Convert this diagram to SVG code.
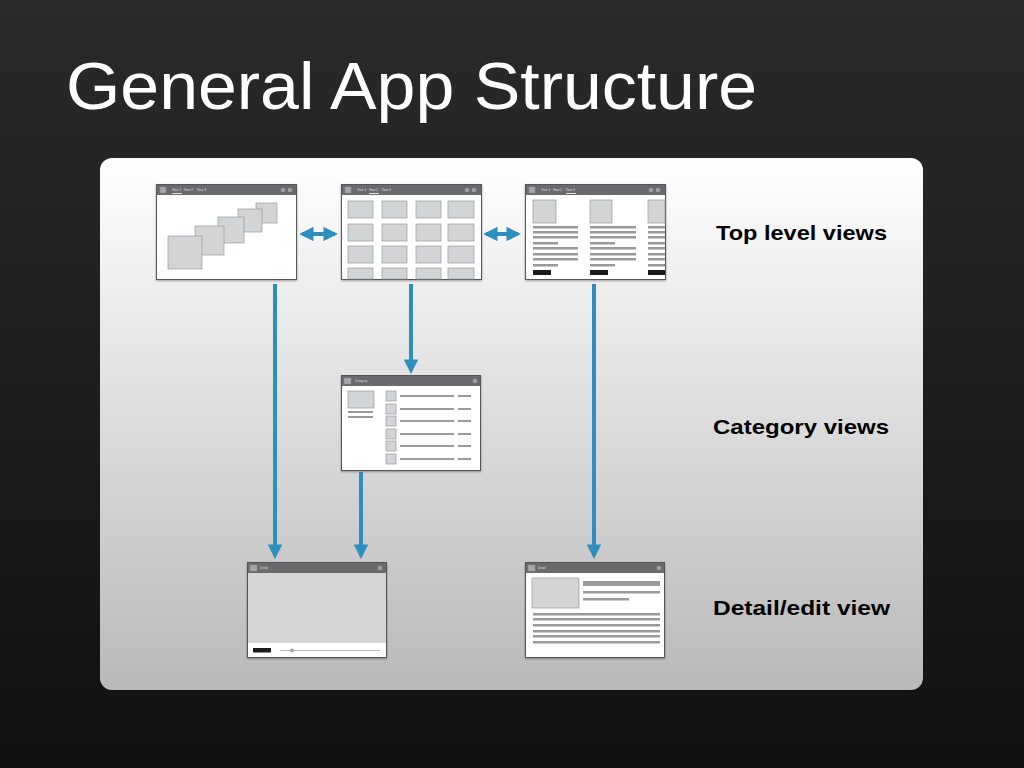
<svg xmlns="http://www.w3.org/2000/svg" width="1024" height="768" viewBox="0 0 1024 768">
<defs>
<linearGradient id="bg" x1="0" y1="0" x2="0" y2="1"><stop offset="0" stop-color="#2a2a2a"/><stop offset="1" stop-color="#111"/></linearGradient>
<linearGradient id="panel" x1="0" y1="0" x2="0" y2="1"><stop offset="0" stop-color="#ffffff"/><stop offset="1" stop-color="#b9b9b9"/></linearGradient>
<marker id="ah" viewBox="0 0 10 10" refX="8" refY="5" markerWidth="3.6" markerHeight="3.6" orient="auto-start-reverse"><path d="M0,0 L10,5 L0,10 z" fill="#2e8ec0"/></marker>
<filter id="sh" x="-5%" y="-5%" width="110%" height="115%"><feDropShadow dx="0" dy="1" stdDeviation="1" flood-opacity="0.35"/></filter>
</defs>
<style>
.win{fill:#fff;stroke:#555;stroke-width:1}
.bar{fill:#6b6b6d}
.ic{fill:#a8a8aa;stroke:#8a8a8a;stroke-width:0.5}
.dot{fill:#a0a0a2}
.box{fill:#d3d4d5;stroke:#999;stroke-width:0.7}
.ln{fill:#9a9a9a}
.blk{fill:#1e1e1e}
.tt{font-family:"Liberation Sans",Arial,sans-serif;font-size:3px;fill:#ddd}
.lab{font-family:"Liberation Sans",Arial,sans-serif;font-size:21px;font-weight:bold;fill:#000}
.con{stroke:#2e8ec0;stroke-width:4;fill:none;marker-end:url(#ah)}
.con2{stroke:#2e8ec0;stroke-width:4;fill:none;marker-end:url(#ah);marker-start:url(#ah)}
</style>
<rect width="1024" height="768" fill="url(#bg)"/>
<text x="66" y="109" font-family="'Liberation Sans',Arial,sans-serif" font-size="66" fill="#fff" textLength="691" lengthAdjust="spacingAndGlyphs">General App Structure</text>
<rect x="100" y="158" width="823" height="532" rx="12" fill="url(#panel)"/>

<g id="w1" filter="url(#sh)">
<rect class="win" x="156.5" y="184.5" width="140" height="95"/>
<rect class="bar" x="157" y="185" width="139" height="10"/>
<rect class="ic" x="160" y="187" width="6" height="6"/>
<text class="tt" x="172" y="191">View 1</text><text class="tt" x="184" y="191">View 2</text><text class="tt" x="197" y="191">View 3</text>
<rect x="172" y="193" width="10" height="0.8" fill="#fff"/>
<circle class="dot" cx="283" cy="190" r="2.3"/><circle class="dot" cx="290" cy="190" r="2.3"/>
<rect class="box" x="256" y="203" width="21" height="20"/>
<rect class="box" x="238" y="209" width="24" height="23"/>
<rect class="box" x="218" y="217" width="26" height="26"/>
<rect class="box" x="195" y="226" width="29" height="29"/>
<rect class="box" x="168" y="236" width="34" height="33"/>
</g>

<g id="w2" filter="url(#sh)">
<rect class="win" x="341.5" y="184.5" width="140" height="95"/>
<rect class="bar" x="342" y="185" width="139" height="10"/>
<rect class="ic" x="345" y="187" width="6" height="6"/>
<text class="tt" x="357" y="191">View 1</text><text class="tt" x="369" y="191">View 2</text><text class="tt" x="382" y="191">View 3</text>
<rect x="369" y="193" width="10" height="0.8" fill="#fff"/>
<circle class="dot" cx="467" cy="190" r="2.3"/><circle class="dot" cx="474" cy="190" r="2.3"/>
<g>
<rect class="box" x="348" y="201" width="25" height="17"/><rect class="box" x="382" y="201" width="25" height="17"/><rect class="box" x="416" y="201" width="25" height="17"/><rect class="box" x="448" y="201" width="26" height="17"/>
<rect class="box" x="348" y="224" width="25" height="17"/><rect class="box" x="382" y="224" width="25" height="17"/><rect class="box" x="416" y="224" width="25" height="17"/><rect class="box" x="448" y="224" width="26" height="17"/>
<rect class="box" x="348" y="246" width="25" height="17"/><rect class="box" x="382" y="246" width="25" height="17"/><rect class="box" x="416" y="246" width="25" height="17"/><rect class="box" x="448" y="246" width="26" height="17"/>
<rect class="box" x="348" y="268" width="25" height="11"/><rect class="box" x="382" y="268" width="25" height="11"/><rect class="box" x="416" y="268" width="25" height="11"/><rect class="box" x="448" y="268" width="26" height="11"/>
</g>
</g>

<g id="w3" filter="url(#sh)">
<rect class="win" x="525.5" y="184.5" width="140" height="95"/>
<rect class="bar" x="526" y="185" width="139" height="10"/>
<rect class="ic" x="529" y="187" width="6" height="6"/>
<text class="tt" x="541" y="191">View 1</text><text class="tt" x="553" y="191">View 2</text><text class="tt" x="566" y="191">View 3</text>
<rect x="566" y="193" width="10" height="0.8" fill="#fff"/>
<circle class="dot" cx="651" cy="190" r="2.3"/><circle class="dot" cx="658" cy="190" r="2.3"/>
<rect class="box" x="533" y="200" width="23" height="23"/><rect class="box" x="590" y="200" width="22" height="23"/><rect class="box" x="648" y="200" width="17" height="23"/>
<g class="ln">
<rect x="533" y="226" width="45" height="2.5"/><rect x="533" y="231" width="45" height="2.5"/><rect x="533" y="236" width="45" height="2.5"/><rect x="533" y="242" width="25" height="2.5"/>
<rect x="533" y="247" width="45" height="2.5"/><rect x="533" y="253" width="45" height="2.5"/><rect x="533" y="258" width="45" height="2.5"/><rect x="533" y="264" width="25" height="2.5"/>
<rect x="590" y="226" width="46" height="2.5"/><rect x="590" y="231" width="46" height="2.5"/><rect x="590" y="236" width="46" height="2.5"/><rect x="590" y="242" width="25" height="2.5"/>
<rect x="590" y="247" width="46" height="2.5"/><rect x="590" y="253" width="46" height="2.5"/><rect x="590" y="258" width="46" height="2.5"/><rect x="590" y="264" width="25" height="2.5"/>
<rect x="648" y="226" width="17" height="2.5"/><rect x="648" y="231" width="17" height="2.5"/><rect x="648" y="236" width="17" height="2.5"/><rect x="648" y="242" width="17" height="2.5"/>
<rect x="648" y="247" width="17" height="2.5"/><rect x="648" y="253" width="17" height="2.5"/><rect x="648" y="258" width="17" height="2.5"/><rect x="648" y="264" width="17" height="2.5"/>
</g>
<rect class="blk" x="533" y="270" width="18" height="5"/><rect class="blk" x="590" y="270" width="18" height="5"/><rect class="blk" x="648" y="270" width="17" height="5"/>
</g>

<g id="cat" filter="url(#sh)">
<rect class="win" x="341.5" y="375.5" width="139" height="95"/>
<rect class="bar" x="342" y="376" width="138" height="10"/>
<rect class="ic" x="344" y="378" width="7" height="6"/>
<text class="tt" x="355" y="382">Category</text>
<circle class="dot" cx="475" cy="381" r="2.3"/>
<rect class="box" x="348" y="391" width="26" height="17"/>
<rect class="ln" x="348" y="411" width="25" height="2"/><rect class="ln" x="348" y="416" width="25" height="2"/>
<g>
<rect class="box" x="386" y="391" width="10" height="10"/><rect class="box" x="386" y="404" width="10" height="10"/><rect class="box" x="386" y="416" width="10" height="10"/><rect class="box" x="386" y="429" width="10" height="10"/><rect class="box" x="386" y="441" width="10" height="10"/><rect class="box" x="386" y="454" width="10" height="10"/>
</g>
<g class="ln">
<rect x="400" y="395" width="54" height="2"/><rect x="458" y="395" width="13" height="2"/>
<rect x="400" y="408" width="54" height="2"/><rect x="458" y="408" width="13" height="2"/>
<rect x="400" y="420" width="54" height="2"/><rect x="458" y="420" width="13" height="2"/>
<rect x="400" y="433" width="54" height="2"/><rect x="458" y="433" width="13" height="2"/>
<rect x="400" y="445" width="54" height="2"/><rect x="458" y="445" width="13" height="2"/>
<rect x="400" y="458" width="54" height="2"/><rect x="458" y="458" width="13" height="2"/>
</g>
</g>

<g id="d1" filter="url(#sh)">
<rect class="win" x="247.5" y="562.5" width="139" height="95"/>
<rect class="bar" x="248" y="563" width="138" height="10"/>
<rect class="ic" x="250" y="565" width="7" height="6"/>
<text class="tt" x="260" y="569">Detail</text>
<circle class="dot" cx="380" cy="568" r="2.3"/>
<rect x="248" y="573" width="138" height="70" fill="#d4d5d6"/>
<rect class="blk" x="253" y="648" width="18" height="4.5"/>
<line x1="280" y1="650.5" x2="380" y2="650.5" stroke="#999" stroke-width="0.7"/>
<circle cx="292" cy="650.5" r="1.8" fill="#aaa" stroke="#888" stroke-width="0.4"/>
</g>

<g id="d2" filter="url(#sh)">
<rect class="win" x="525.5" y="562.5" width="139" height="95"/>
<rect class="bar" x="526" y="563" width="138" height="10"/>
<rect class="ic" x="528" y="565" width="7" height="6"/>
<text class="tt" x="538" y="569">Detail</text>
<circle class="dot" cx="659" cy="568" r="2.3"/>
<rect class="box" x="532" y="578" width="47" height="30"/>
<g class="ln">
<rect x="583" y="581" width="77" height="5"/><rect x="583" y="591" width="77" height="2.5"/><rect x="583" y="598" width="46" height="2.5"/>
<rect x="533" y="613" width="127" height="2.5"/><rect x="533" y="618" width="127" height="2.5"/><rect x="533" y="624" width="127" height="2.5"/><rect x="533" y="630" width="127" height="2.5"/><rect x="533" y="635" width="127" height="2.5"/><rect x="533" y="641" width="127" height="2.5"/>
</g>
</g>

<g id="connectors">
<line class="con2" x1="302" y1="234" x2="335" y2="234"/>
<line class="con2" x1="486" y1="234" x2="518" y2="234"/>
<line class="con" x1="275" y1="284" x2="275" y2="556"/>
<line class="con" x1="411" y1="284" x2="411" y2="371"/>
<line class="con" x1="361" y1="472" x2="361" y2="556"/>
<line class="con" x1="594" y1="284" x2="594" y2="556"/>
</g>

<g id="labels">
<text class="lab" x="716" y="240" textLength="171" lengthAdjust="spacingAndGlyphs">Top level views</text>
<text class="lab" x="713" y="434" textLength="176" lengthAdjust="spacingAndGlyphs">Category views</text>
<text class="lab" x="713" y="615" textLength="177" lengthAdjust="spacingAndGlyphs">Detail/edit view</text>
</g>
</svg>
